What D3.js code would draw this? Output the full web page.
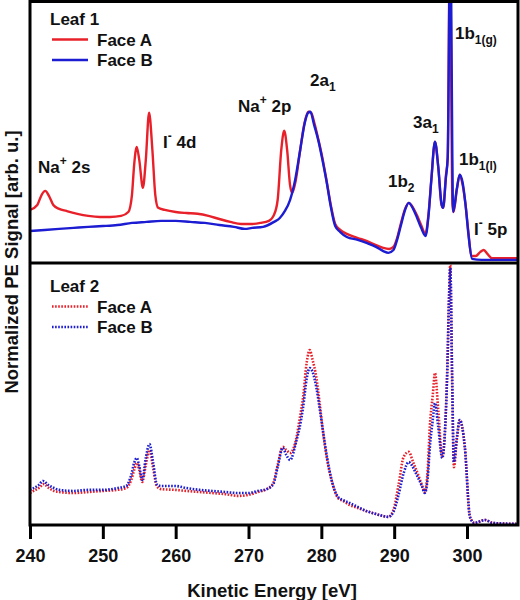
<!DOCTYPE html>
<html><head><meta charset="utf-8">
<script src="https://cdn.jsdelivr.net/npm/d3@7"></script>
<style>
html,body{margin:0;padding:0;background:#fff;}
svg text{font-family:"Liberation Sans",Arial,sans-serif;font-weight:bold;fill:#111;}
</style></head>
<body><svg id="c" width="520" height="600"></svg>
<script>
// ---- Data (kinetic energy in eV, normalized PE signal in arb. u.) ----
const xTicks = [240, 250, 260, 270, 280, 290, 300];

const leaf1A_E = [240.0,241.0,241.6,242.1,242.6,243.2,244.0,245.0,246.5,248.0,249.6,251.0,252.5,253.5,254.0,254.3,254.65,255.0,255.5,255.9,256.35,256.8,257.2,257.6,258.5,260.0,261.5,263.0,264.5,266.0,267.5,269.0,270.5,271.6,272.8,273.5,274.0,274.5,274.9,275.3,275.7,276.0,276.5,277.1,277.7,278.2,278.6,279.0,279.6,280.2,280.7,281.3,281.9,282.6,283.5,285.0,286.2,287.5,288.5,289.3,289.9,290.4,290.9,291.5,292.0,292.6,293.1,293.7,294.3,294.7,295.1,295.6,296.05,296.5,296.75,297.1,297.35,297.65,298.0,298.15,298.6,299.0,299.4,299.8,300.2,300.6,301.2,301.8,302.3,302.8,303.4,305.0,307.0];
const leaf1A_V = [20.0,21.9,25.8,27.3,25.4,21.9,20.4,19.6,18.5,17.7,17.3,17.3,17.7,19.2,25.8,37.3,44.2,39.2,28.5,39.2,57.3,43.1,25.8,20.8,20.0,19.2,18.8,18.5,17.7,16.5,15.4,14.6,14.6,15.0,15.8,18.1,23.8,43.1,50.4,43.1,29.6,26.5,31.5,43.1,53.5,57.7,57.3,53.8,46.9,39.2,31.5,21.9,14.6,12.3,10.8,9.2,8.1,6.5,5.4,5.0,5.8,9.2,14.6,20.4,22.7,20.8,18.1,14.2,10.8,18.1,31.5,46.2,36.5,21.9,20.8,33.1,40.0,123.0,21.9,19.2,27.7,33.5,29.6,21.9,11.2,2.3,2.3,3.8,4.6,3.1,1.5,1.5,1.5];

const leaf1B_E = [240.0,242.0,244.0,246.0,248.0,250.0,252.0,254.0,256.0,258.0,260.0,262.0,264.0,266.0,268.0,269.5,270.5,272.0,273.5,274.3,275.0,275.7,276.4,277.1,277.7,278.2,278.5,279.0,279.6,280.2,280.7,281.3,281.9,282.6,283.5,285.0,286.2,287.5,288.5,289.2,289.9,290.4,290.9,291.5,292.0,292.6,293.1,293.7,294.3,294.7,295.1,295.6,296.05,296.5,296.7,297.1,297.35,297.7,298.1,298.6,299.0,299.4,299.8,300.2,300.7,302.0,304.0,307.0];
const leaf1B_V = [11.9,12.3,12.7,13.1,13.5,13.8,14.2,15.0,15.4,15.8,15.8,15.4,15.0,14.2,13.5,12.7,13.1,13.5,15.4,16.9,19.6,23.8,31.5,43.1,53.1,57.3,57.7,52.7,46.5,38.5,31.2,21.2,13.8,11.5,9.6,8.5,7.3,5.8,4.2,3.5,4.6,8.5,13.8,20.0,22.7,20.4,17.3,13.1,10.0,17.3,31.5,46.2,36.5,22.3,20.8,32.3,40.0,127.7,19.2,28.1,33.5,30.4,21.9,10.4,1.2,0.8,0.8,0.8];

const leaf2A_E = [240.0,240.5,241.2,241.9,242.6,243.3,244.0,246.0,248.0,250.0,252.0,253.2,253.9,254.3,254.65,255.0,255.4,255.9,256.4,256.9,257.4,258.0,259.9,261.5,263.3,265.0,266.8,268.6,270.0,271.3,272.5,273.4,274.0,274.7,275.2,275.7,276.6,277.0,277.5,278.0,278.4,278.8,279.3,279.8,280.2,280.8,281.4,282.3,283.0,283.9,285.0,286.2,287.5,288.5,289.2,289.9,290.6,291.3,292.0,292.6,293.3,293.8,294.2,294.6,294.9,295.3,295.6,296.05,296.6,296.9,297.3,297.55,297.7,297.95,298.2,298.6,299.0,299.7,300.4,301.0,302.5,303.5,307.0];
const leaf2A_V = [12.2,13.0,14.1,15.6,14.1,13.0,12.6,12.2,12.6,13.0,13.4,14.1,17.2,21.0,23.7,21.0,16.4,22.9,28.6,21.8,14.9,13.7,13.4,13.0,12.6,12.2,11.8,11.1,11.5,12.6,13.7,16.0,22.9,29.8,28.6,27.5,33.6,40.1,48.9,62.2,66.8,63.0,56.5,45.8,36.3,24.8,17.2,10.3,9.2,7.6,6.5,5.3,4.2,3.4,3.1,5.7,15.3,26.0,27.9,24.0,19.1,15.3,12.6,21.0,37.8,49.6,58.0,43.9,26.0,32.4,61.1,89.7,99.2,55.3,22.1,32.4,40.1,29.8,3.1,0.8,1.9,0.8,0.4];

const leaf2B_E = [240.0,240.5,241.2,241.8,242.5,243.3,244.0,246.0,248.0,250.0,252.0,253.2,253.9,254.3,254.65,255.0,255.4,255.9,256.4,256.9,257.4,258.0,259.9,261.5,263.3,265.0,266.8,268.6,270.0,271.3,272.5,273.4,274.0,274.7,275.2,275.7,276.6,277.0,277.5,278.0,278.4,278.8,279.3,279.8,280.2,280.8,281.4,282.3,283.0,283.9,285.0,286.2,287.5,288.5,289.2,289.9,290.6,291.3,292.0,292.4,292.9,293.3,293.8,294.2,294.6,294.9,295.3,295.6,296.05,296.6,296.9,297.3,297.55,297.7,297.95,298.2,298.6,299.0,299.7,300.4,301.0,302.5,303.5,307.0];
const leaf2B_V = [13.4,14.1,15.3,16.8,15.3,14.1,13.4,13.0,13.4,13.4,14.1,14.9,19.1,23.7,25.6,22.5,17.2,25.6,30.9,24.0,15.6,14.9,14.9,14.1,13.4,13.0,12.6,12.2,12.2,13.0,13.7,15.6,22.1,29.4,26.7,24.8,32.4,37.0,45.0,56.1,59.9,58.4,52.7,43.9,36.3,25.6,17.2,10.7,9.5,8.4,6.9,5.3,4.2,3.4,3.1,5.0,11.5,19.8,24.0,22.9,20.2,17.9,14.9,12.2,17.9,29.8,40.1,46.6,37.4,25.6,32.4,59.2,87.8,98.1,59.2,24.0,33.2,40.1,29.8,3.1,0.8,1.9,0.8,0.4];

const seriesNames = ["Face A", "Face B"];
const panelTitles = ["Leaf 1", "Leaf 2"];
const colors = {"Face A": "#e8202a", "Face B": "#1c1cd2"};

// ---- Layout ----
const svg = d3.select("#c");
const L = 30, R = 518, T = 1.5, MID = 263, B = 525;
const x = d3.scaleLinear().domain([240, 307]).range([L, R]);
const yTop = d3.scaleLinear().domain([0, 100]).range([262, T]);
const yBot = d3.scaleLinear().domain([0, 100]).range([B, MID]);

const defs = svg.append("defs");
defs.append("clipPath").attr("id","clipTop").append("rect")
  .attr("x", L).attr("y", 0).attr("width", R - L).attr("height", MID - 0);
defs.append("clipPath").attr("id","clipBot").append("rect")
  .attr("x", L).attr("y", MID).attr("width", R - L).attr("height", B - MID);

function zip(E, V){ return E.map((e,i)=>[e, V[i]]); }
function drawLine(data, y, color, clip, dotted){
  const line = d3.line().x(d=>x(d[0])).y(d=>y(d[1])).curve(d3.curveMonotoneX);
  const p = svg.append("path").datum(data)
    .attr("d", line).attr("fill","none").attr("stroke", color)
    .attr("stroke-width", dotted ? 2.6 : 2.4)
    .attr("stroke-linejoin","round")
    .attr("clip-path", `url(#${clip})`);
  if (dotted) p.attr("stroke-dasharray","1.6,1.5");
}

drawLine(zip(leaf1A_E, leaf1A_V), yTop, colors["Face A"], "clipTop", false);
drawLine(zip(leaf1B_E, leaf1B_V), yTop, colors["Face B"], "clipTop", false);
drawLine(zip(leaf2A_E, leaf2A_V), yBot, colors["Face A"], "clipBot", true);
drawLine(zip(leaf2B_E, leaf2B_V), yBot, colors["Face B"], "clipBot", true);

// Frame
svg.append("rect").attr("x", L).attr("y", T).attr("width", R - L).attr("height", B - T)
  .attr("fill","none").attr("stroke","#000").attr("stroke-width",3);
svg.append("line").attr("x1", L).attr("x2", R).attr("y1", MID).attr("y2", MID)
  .attr("stroke","#000").attr("stroke-width",3);

// X axis
const xAxis = d3.axisBottom(x).tickValues(xTicks).tickSize(14).tickPadding(10).tickSizeOuter(0);
const gx = svg.append("g").attr("transform", `translate(0,${B})`).call(xAxis);
gx.select(".domain").remove();
gx.selectAll(".tick line").attr("stroke","#000").attr("stroke-width",3);
gx.selectAll(".tick text").attr("font-size", 18).attr("fill","#111")
  .style("font-family",'"Liberation Sans",Arial,sans-serif').style("font-weight","bold");

svg.append("text").attr("x", 272).attr("y", 597).attr("text-anchor","middle")
  .attr("font-size", 18.5).text("Kinetic Energy [eV]");
svg.append("text").attr("transform","translate(18,262) rotate(-90)").attr("text-anchor","middle")
  .attr("font-size", 18.5).text("Normalized PE Signal [arb. u.]");

// Legends
function legend(title, ty, rows, dotted){
  svg.append("text").attr("x", 50).attr("y", ty).attr("font-size", 17).text(title);
  rows.forEach((r, i) => {
    const by = ty + 20.5 * (i + 1);
    const ln = svg.append("line").attr("x1", 52).attr("x2", 88)
      .attr("y1", by - 6).attr("y2", by - 6)
      .attr("stroke", colors[r]).attr("stroke-width", dotted ? 2.6 : 2.4);
    if (dotted) ln.attr("stroke-dasharray","1.6,1.5");
    svg.append("text").attr("x", 97).attr("y", by).attr("font-size", 17).text(r);
  });
}
legend(panelTitles[0], 25, seriesNames, false);
legend(panelTitles[1], 292, seriesNames, true);

// Peak labels: [main, script, scriptType, tail, x, y]
const peakLabels = [
  ["Na", "+", "sup", " 2s", 38, 173],
  ["I", "-", "sup", " 4d", 163, 148],
  ["Na", "+", "sup", " 2p", 238, 112],
  ["2a", "1", "sub", "", 310, 86],
  ["1b", "2", "sub", "", 388, 187],
  ["3a", "1", "sub", "", 413, 128],
  ["1b", "1(g)", "sub", "", 455, 39],
  ["1b", "1(l)", "sub", "", 459, 165],
  ["I", "-", "sup", " 5p", 474, 235]
];
peakLabels.forEach(([m, s, t, tail, px, py]) => {
  const tx = svg.append("text").attr("x", px).attr("y", py).attr("font-size", 17);
  tx.append("tspan").text(m);
  const d = t === "sup" ? -8 : 5;
  tx.append("tspan").attr("font-size", 12).attr("dy", d).text(s);
  if (tail) tx.append("tspan").attr("dy", -d).text(tail);
});
</script></body></html>
